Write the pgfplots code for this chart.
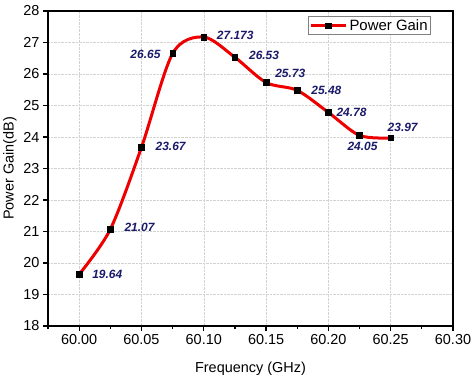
\documentclass[border=0pt]{standalone}
\usepackage{pgfplots}
\pgfplotsset{compat=1.18}
\usepackage{fontspec}
\setmainfont{Liberation Sans}
\definecolor{lblue}{HTML}{1A1A6A}
\definecolor{pred}{HTML}{EE0000}
\begin{document}
\begin{tikzpicture}
\begin{axis}[
  scale only axis, width=405bp, height=315bp,
  xmin=59.975, xmax=60.30, ymin=18, ymax=28,
  xtick={60.00,60.05,60.10,60.15,60.20,60.25,60.30},
  minor xtick={59.975,60.025,60.075,60.125,60.175,60.225,60.275},
  ytick={18,19,20,21,22,23,24,25,26,27,28},
  xticklabel style={/pgf/number format/.cd, fixed, fixed zerofill, precision=2},
  /pgf/number format/assume math mode=true,
  tick label style={font=\fontsize{14.5}{16}\selectfont},
  label style={font=\fontsize{14.5}{17}\selectfont},
  xlabel style={yshift=-10bp},
  axis line style={line width=1.6bp},
  tick style={black, line width=1.2bp},
  tick align=outside, xtick pos=left, ytick pos=left,
  major tick length=5bp, minor tick length=3bp,
  grid=major, major grid style={densely dotted, gray!35, line width=0.5bp},
  xlabel={Frequency (GHz)}, ylabel={Power Gain(dB)},
  legend style={at={(1,1)}, anchor=north east, xshift=-22bp, yshift=-5bp,
    draw=gray, line width=0.8bp, font=\fontsize{15}{17}\selectfont,
    inner sep=1bp},
  legend image code/.code={\draw[mark repeat=2,mark phase=2] plot coordinates {(0cm,0cm)(0.62cm,0cm)(1.25cm,0cm)};},
  clip=false,
]
\coordinate (bl) at (rel axis cs:0,0);
\coordinate (tr) at (rel axis cs:1,1);
\addplot[pred, line width=3bp, smooth, mark=square*,
  mark options={black, fill=black, mark size=2.8bp, line width=0.5bp}]
  coordinates {
  (60.000,19.64) (60.025,21.07) (60.050,23.67) (60.075,26.65)
  (60.100,27.173) (60.125,26.53) (60.150,25.73) (60.175,25.48)
  (60.200,24.78) (60.225,24.05) (60.250,23.97)};
\addlegendentry{Power Gain}
\tikzset{dl/.style={text=lblue, font=\fontsize{12}{14}\selectfont\bfseries\itshape, inner sep=0pt}}
\node[dl, anchor=west] at ([xshift=13bp]axis cs:60.000,19.64) {19.64};
\node[dl, anchor=west] at ([xshift=14bp,yshift=2bp]axis cs:60.025,21.07) {21.07};
\node[dl, anchor=west] at ([xshift=14bp,yshift=1bp]axis cs:60.050,23.67) {23.67};
\node[dl, anchor=east] at ([xshift=-12bp,yshift=-1bp]axis cs:60.075,26.65) {26.65};
\node[dl, anchor=west] at ([xshift=13bp,yshift=2bp]axis cs:60.100,27.173) {27.173};
\node[dl, anchor=west] at ([xshift=14bp,yshift=2bp]axis cs:60.125,26.53) {26.53};
\node[dl, anchor=west] at ([xshift=9bp,yshift=9bp]axis cs:60.150,25.73) {25.73};
\node[dl, anchor=west] at ([xshift=14bp,yshift=0bp]axis cs:60.175,25.48) {25.48};
\node[dl, anchor=west] at ([xshift=8bp,yshift=0bp]axis cs:60.200,24.78) {24.78};
\node[dl, anchor=north] at ([xshift=3bp,yshift=-7bp]axis cs:60.225,24.05) {24.05};
\node[dl, anchor=south] at ([xshift=12bp,yshift=6bp]axis cs:60.250,23.97) {23.97};
\end{axis}
\pgfresetboundingbox
\path[use as bounding box] ([shift={(-48bp,-55bp)}]bl) rectangle ([shift={(21bp,11bp)}]tr);
\end{tikzpicture}
\end{document}
